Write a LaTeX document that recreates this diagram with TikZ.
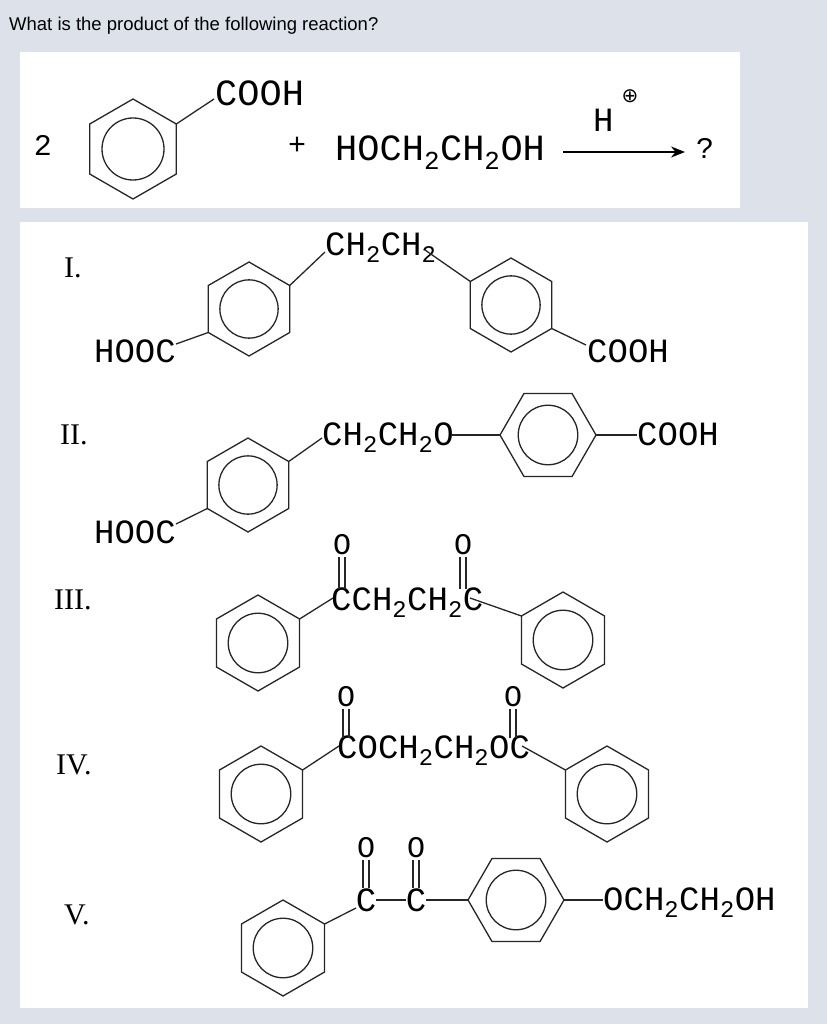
\documentclass[tikz,border=0pt]{standalone}
\usepackage{fontspec}
\setmainfont{Liberation Serif}
\newfontfamily\chem{Liberation Mono}
\newfontfamily\ui{Liberation Sans}
\newfontfamily\djsym{DejaVu Sans}
\usetikzlibrary{arrows.meta,calc}
\definecolor{bg}{HTML}{DDE1EA}
\newcommand\ringP[4]{%
 \coordinate (#1) at (#2,#3);
 \coordinate (#1-t) at ($(#1)+(0,-#4)$);
 \coordinate (#1-b) at ($(#1)+(0,#4)$);
 \coordinate (#1-ur) at ($(#1)+({0.866*#4},{-0.5*#4})$);
 \coordinate (#1-lr) at ($(#1)+({0.866*#4},{0.5*#4})$);
 \coordinate (#1-ul) at ($(#1)+({-0.866*#4},{-0.5*#4})$);
 \coordinate (#1-ll) at ($(#1)+({-0.866*#4},{0.5*#4})$);
 \draw[bond] (#1-t)--(#1-ur)--(#1-lr)--(#1-b)--(#1-ll)--(#1-ul)--cycle;
 \draw[bond] (#1) circle ({0.62*#4});}
\newcommand\ringF[4]{%
 \coordinate (#1) at (#2,#3);
 \coordinate (#1-l) at ($(#1)+(-#4,0)$);
 \coordinate (#1-r) at ($(#1)+(#4,0)$);
 \coordinate (#1-ur) at ($(#1)+({0.5*#4},{-0.866*#4})$);
 \coordinate (#1-lr) at ($(#1)+({0.5*#4},{0.866*#4})$);
 \coordinate (#1-ul) at ($(#1)+({-0.5*#4},{-0.866*#4})$);
 \coordinate (#1-ll) at ($(#1)+({-0.5*#4},{0.866*#4})$);
 \draw[bond] (#1-l)--(#1-ul)--(#1-ur)--(#1-r)--(#1-lr)--(#1-ll)--cycle;
 \draw[bond] (#1) circle ({0.62*#4});}
\tikzset{
 bond/.style={line width=1.3pt,black!85},
 chemtxt/.style={font=\chem\fontsize{34}{40}\selectfont,inner sep=0pt,anchor=base west},
 chemO/.style={font=\chem\fontsize{30}{36}\selectfont,inner sep=0pt},
 lab/.style={font=\fontsize{30}{36}\selectfont,inner sep=0pt,anchor=west},
 panel/.style={fill=white,draw=none}
}
\newcommand\chsub[1]{\textsubscript{#1}}
\begin{document}
\begin{tikzpicture}[x=1pt,y=-1pt]
\fill[bg] (0,0) rectangle (827,1024);
\useasboundingbox (0,0) rectangle (827,1024);
\node[font=\ui\fontsize{18.5}{22}\selectfont,anchor=west,inner sep=0] (title) at (9,26) {What is the product of the following reaction?};
\fill[panel] (20,52) rectangle (740,208);
\fill[panel] (20,222) rectangle (808,1008);

% reaction
\node[chemO] (two) at (43,145) {2};
\ringP{R}{133}{149}{50}
\node[chemtxt,font=\chem\fontsize{37}{40}\selectfont] (rc) at (215,106) {COOH};
\coordinate (rcb) at (214,99);
\draw[bond] (R-ur)--(rcb);
\node[chemO] (plus) at (297,146) {+};
\node[chemtxt,font=\chem\fontsize{37}{40}\selectfont] (glycol) at (335,161) {HOCH\chsub{2}CH\chsub{2}OH};
\coordinate (a1) at (563,152); \coordinate (a2) at (685,152);
\draw[line width=1.6pt,-{Stealth[length=14pt,width=11pt]}] (a1)--(a2);
\node[chemtxt,font=\chem\fontsize{34}{40}\selectfont] (hp) at (593,132) {H};
\node[font=\djsym\fontsize{20}{22}\selectfont,inner sep=0] (plusc) at (630,96) {⊕};
\node[chemO] (q) at (705,148) {?};

% I
\node[lab] (l1) at (64,268) {I.};
\ringP{A}{249}{309}{47}
\ringP{B}{511}{305}{47}
\node[chemtxt] (t1) at (325,255) {CH\chsub{2}CH\chsub{2}};
\coordinate (t1a) at (325,252); \coordinate (t1b) at (425,250);
\draw[bond] (A-ur)--(t1a);
\draw[bond] (t1b)--(B-ul);
\node[chemtxt,anchor=base east] (h1) at (176,362) {HOOC};
\coordinate (h1b) at (176,344);
\draw[bond] (A-ll)--(h1b);
\node[chemtxt] (c1) at (587,362) {COOH};
\coordinate (c1b) at (586,345);
\draw[bond] (B-lr)--(c1b);

% II
\node[lab] (l2) at (60,435) {II.};
\ringP{C}{248}{485}{47}
\ringF{D}{548}{435}{48}
\node[chemtxt] (t2) at (322,445) {CH\chsub{2}CH\chsub{2}O};
\coordinate (t2a) at (322,438); \coordinate (t2b) at (452,435);
\draw[bond] (C-ur)--(t2a);
\draw[bond] (t2b)--(D-l);
\node[chemtxt] (c2) at (637,445) {COOH};
\coordinate (c2b) at (637,435);
\draw[bond] (D-r)--(c2b);
\node[chemtxt,anchor=base east] (h2) at (176,543) {HOOC};
\coordinate (h2b) at (176,524);
\draw[bond] (C-ll)--(h2b);

% III
\node[lab] (l3) at (54,600) {III.};
\ringP{E}{258}{643}{48}
\ringP{F}{563}{640}{48}
\node[chemtxt] (t3) at (331,610) {CCH\chsub{2}CH\chsub{2}C};
\coordinate (t3a) at (333,598); \coordinate (t3b) at (470,598);
\draw[bond] (E-ur)--(t3a);
\draw[bond] (t3b)--(F-ul);
\node[chemO] (o31) at (342,545) {O};
\node[chemO] (o32) at (463,545) {O};
\draw[bond] (339,557)--(339,589) (345,557)--(345,589);
\draw[bond] (460,557)--(460,589) (466,557)--(466,589);

% IV
\node[lab] (l4) at (56,765) {IV.};
\ringP{G}{261}{794}{48}
\ringP{H}{607}{794}{48}
\node[chemtxt] (t4) at (337,758) {COCH\chsub{2}CH\chsub{2}OC};
\coordinate (t4a) at (339,746); \coordinate (t4b) at (522,746);
\draw[bond] (G-ur)--(t4a);
\draw[bond] (t4b)--(H-ul);
\node[chemO] (o41) at (346,697) {O};
\node[chemO] (o42) at (513,697) {O};
\draw[bond] (343,709)--(343,738) (349,709)--(349,738);
\draw[bond] (510,709)--(510,738) (516,709)--(516,738);

% V
\node[lab] (l5) at (64,915) {V.};
\ringP{I}{283}{948}{48}
\ringF{J}{516}{900}{48}
\node[chemtxt,anchor=center] (c51) at (366,900) {C};
\node[chemtxt,anchor=center] (c52) at (416,900) {C};
\node[chemO] (o51) at (366,848) {O};
\node[chemO] (o52) at (416,848) {O};
\draw[bond] (363,860)--(363,888) (369,860)--(369,888);
\draw[bond] (413,860)--(413,888) (419,860)--(419,888);
\coordinate (v1) at (356,908);
\draw[bond] (I-ur)--(v1);
\draw[bond] (c51.east)--(c52.west);
\draw[bond] (c52.east)--(J-l);
\node[chemtxt] (t5) at (603,910) {OCH\chsub{2}CH\chsub{2}OH};
\coordinate (t5a) at (603,900);
\draw[bond] (J-r)--(t5a);
\end{tikzpicture}
\end{document}
